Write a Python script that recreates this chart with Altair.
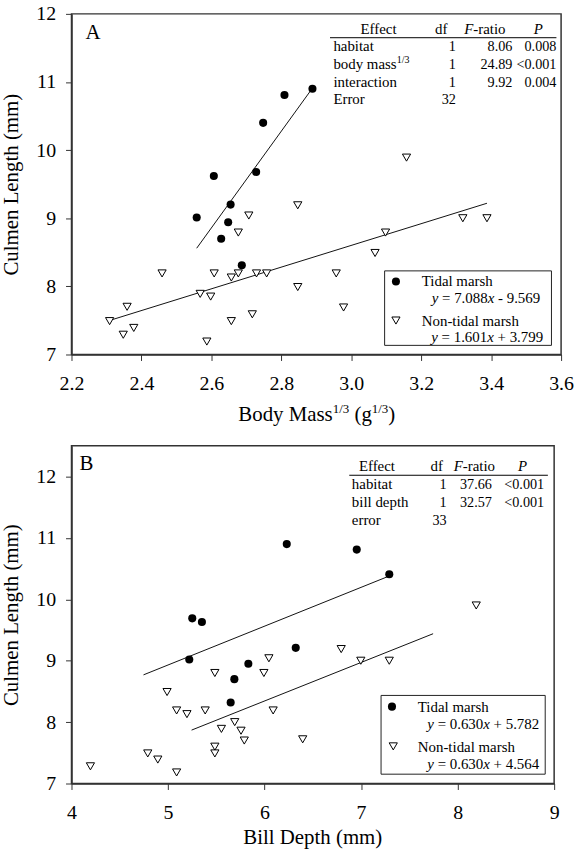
import altair as alt
import pandas as pd

SERIF = "Liberation Serif"

# ---------------- data ----------------
# Panel A: culmen length vs body mass^(1/3)
A_tidal_x = [2.889, 2.809, 2.748, 2.728, 2.607, 2.655, 2.558, 2.648, 2.628, 2.687]
A_tidal_y = [10.90, 10.81, 10.40, 9.68, 9.62, 9.20, 9.01, 8.94, 8.70, 8.31]
A_non_x = [3.158, 2.847, 2.707, 2.677, 3.319, 3.388, 3.098, 3.068, 2.459, 2.608,
           2.657, 2.677, 2.729, 2.758, 2.957, 2.847, 2.568, 2.598, 2.359, 2.978,
           2.309, 2.378, 2.348, 2.657, 2.717, 2.587]
A_non_y = [9.89, 9.19, 9.04, 8.79, 9.00, 9.00, 8.79, 8.49, 8.19, 8.19,
           8.13, 8.19, 8.19, 8.19, 8.19, 7.99, 7.89, 7.85, 7.70, 7.69,
           7.49, 7.39, 7.29, 7.49, 7.59, 7.19]
A_fit_tidal_x = [2.558, 2.889]
A_fit_tidal_y = [8.56, 10.91]
A_fit_non_x = [2.309, 3.388]
A_fit_non_y = [7.50, 9.22]

# Panel B: culmen length vs bill depth
B_tidal_x = [6.230, 6.955, 7.292, 5.251, 5.351, 5.220, 5.832, 5.687, 5.649, 6.323]
B_tidal_y = [10.90, 10.81, 10.41, 9.69, 9.63, 9.02, 8.95, 8.70, 8.32, 9.21]
B_non_x = [8.193, 6.794, 6.045, 6.997, 7.292, 5.485, 5.993, 4.990, 5.089, 5.196,
           5.385, 6.089, 5.691, 5.553, 5.756, 5.790, 6.395, 5.485, 5.485, 4.790,
           4.894, 5.089, 4.196]
B_non_y = [9.90, 9.19, 9.04, 9.00, 9.00, 8.80, 8.80, 8.49, 8.19, 8.13,
           8.19, 8.19, 8.00, 7.89, 7.86, 7.70, 7.72, 7.60, 7.49, 7.49,
           7.39, 7.18, 7.28]
B_fit_tidal_x = [4.746, 7.292]
B_fit_tidal_y = [8.77, 10.38]
B_fit_non_x = [5.244, 7.746]
B_fit_non_y = [7.87, 9.44]

A_x_ticks = [2.2, 2.4, 2.6, 2.8, 3.0, 3.2, 3.4, 3.6]
A_y_ticks = [7, 8, 9, 10, 11, 12]
B_x_ticks = [4, 5, 6, 7, 8, 9]
B_y_ticks = [7, 8, 9, 10, 11, 12]

A_table_rows = [("habitat", "1", "8.06", "0.008"),
                ("body mass", "1", "24.89", "<0.001"),
                ("interaction", "1", "9.92", "0.004"),
                ("Error", "32", "", "")]
B_table_rows = [("habitat", "1", "37.66", "<0.001"),
                ("bill depth", "1", "32.57", "<0.001"),
                ("error", "33", "", "")]
A_eq_tidal = ("7.088", "- 9.569")
A_eq_non = ("1.601", "+ 3.799")
B_eq_tidal = ("0.630", "+ 5.782")
B_eq_non = ("0.630", "+ 4.564")

# ---------------- text metrics helpers (Times / Liberation Serif) ----------------
REG = {' ': .25, '=': .564, '+': .564, '-': .333, '.': .25, '(': .333, ')': .333,
       '/': .278, '<': .564, 'B': .667, 'o': .5, 'd': .5, 'y': .5, 'M': .889,
       'a': .444, 's': .389, 'g': .5, 'r': .333, 't': .278, 'i': .278, 'l': .278,
       'D': .722, 'e': .444, 'p': .5, 'h': .5, 'm': .778, 'F': .556, 'E': .611,
       'f': .333, 'c': .444, 'n': .5, 'b': .5, 'x': .5, 'P': .556}
ITA = {'x': .444, 'y': .444, 'F': .611, 'P': .611}


def tw(s, size, italic=False):
    tab = ITA if italic else REG
    return sum(tab.get(c, REG.get(c, .5)) for c in s) * size


def run(pieces, x, y, anchor="left"):
    total = sum(tw(t, s, it) for t, s, it, dy in pieces)
    if anchor == "right":
        x -= total
    elif anchor == "center":
        x -= total / 2
    out = []
    for t, s, it, dy in pieces:
        lead = len(t) - len(t.lstrip(" "))
        out.append((t.strip(" "), x + tw(" " * lead, s), y + dy, s, "left", it))
        x += tw(t, s, it)
    return out


def text_layers(items):
    df = pd.DataFrame([i for i in items if i[0] != ""],
                      columns=["t", "px", "py", "fs", "al", "it"])
    layers = []
    for (al, it), sub in df.groupby(["al", "it"]):
        layers.append(
            alt.Chart(sub).mark_text(align=al, baseline="alphabetic", font=SERIF,
                                     fontStyle="italic" if it else "normal",
                                     color="black")
            .encode(x=alt.X("px:Q", scale=None, axis=None),
                    y=alt.Y("py:Q", scale=None, axis=None),
                    text="t:N",
                    size=alt.Size("fs:Q", scale=None, legend=None)))
    return layers


def equation(coef, rest, right, y, fs=15):
    return run([("y", fs, True, 0), (" = " + coef, fs, False, 0),
                ("x", fs, True, 0), (" " + rest, fs, False, 0)], right, y, "right")


def panel(tx, ty, nx, ny, ftx, fty, fnx, fny, xdom, ydom, xticks, yticks, xfmt,
          W, H, L):
    xs = alt.Scale(domain=xdom, nice=False, zero=False)
    ys = alt.Scale(domain=ydom, nice=False, zero=False)
    xax = alt.Axis(values=xticks, format=xfmt, title=None, labelFlush=False,
                   labelOverlap=False, labelPadding=13, labelFont=SERIF)
    yax = alt.Axis(values=yticks, title="Culmen Length (mm)", labelPadding=10,
                   titlePadding=14, labelOverlap=False, labelFont=SERIF,
                   titleFont=SERIF)
    dT = pd.DataFrame({"x": tx, "y": ty})
    dN = pd.DataFrame({"x": nx, "y": ny})
    fT = pd.DataFrame({"x": ftx, "y": fty})
    fN = pd.DataFrame({"x": fnx, "y": fny})
    X = alt.X("x:Q", scale=xs, axis=xax)
    Y = alt.Y("y:Q", scale=ys, axis=yax)
    lines = [alt.Chart(d).mark_line(color="#111", strokeWidth=1).encode(x=X, y=Y)
             for d in (fT, fN)]
    tid = alt.Chart(dT).mark_point(shape="circle", filled=True, color="black",
                                   size=66, opacity=1).encode(x=X, y=Y)
    non = alt.Chart(dN).mark_point(shape="triangle-down", filled=True, fill="white",
                                   stroke="black", strokeWidth=1, size=68,
                                   opacity=1).encode(x=X, y=Y)
    layers = lines + [non, tid]
    layers.append(alt.Chart().mark_rule(color="black", strokeWidth=1).encode(
        x=alt.value(L["ul"][0]), x2=alt.value(L["ul"][1]), y=alt.value(L["ul"][2])))
    bx = L["box"]
    layers.append(alt.Chart().mark_rect(fill="white", stroke="#222", strokeWidth=1).encode(
        x=alt.value(bx[0]), x2=alt.value(bx[1]), y=alt.value(bx[2]), y2=alt.value(bx[3])))
    layers.append(alt.Chart().mark_point(shape="circle", filled=True, color="black",
                                         size=66, opacity=1).encode(
        x=alt.value(L["sym1"][0]), y=alt.value(L["sym1"][1])))
    layers.append(alt.Chart().mark_point(shape="triangle-down", filled=True, fill="white",
                                         stroke="black", strokeWidth=1, size=68,
                                         opacity=1).encode(
        x=alt.value(L["sym2"][0]), y=alt.value(L["sym2"][1])))
    layers += text_layers(L["texts"])
    return alt.layer(*layers).properties(width=W, height=H)


# ---------------- layout of annotations (pixels inside each plot) ----------------
FS = 15
NS = 14.3
textsA = [("A", 14, 25.5, 21, "left", False)]
hA = 20.5
textsA += run([("Effect", FS, False, 0)], 309.3, hA, "center")
textsA += run([("df", FS, False, 0)], 372.3, hA, "center")
textsA += run([("F", FS, True, 0), ("-ratio", FS, False, 0)], 416.3, hA, "center")
textsA += run([("P", FS, True, 0)], 470, hA, "center")
for i, (lab, df_, fr, p) in enumerate(A_table_rows):
    yy = 37.2 + 18 * i
    if lab == "body mass":
        textsA += run([(lab, FS, False, 0), ("1/3", 10, False, -6)], 263.7, yy)
    else:
        textsA.append((lab, 263.7, yy, FS, "left", False))
    textsA.append((df_, 387, yy, NS, "right", False))
    textsA.append((fr, 444, yy, NS, "right", False))
    textsA.append((p, 488.3, yy, NS, "right", False))
textsA.append(("Tidal marsh", 352.7, 274.5, FS, "left", False))
textsA += equation(*A_eq_tidal, 472, 291.2)
textsA.append(("Non-tidal marsh", 352.7, 313.8, FS, "left", False))
textsA += equation(*A_eq_non, 475, 330.5)
textsA += run([("Body Mass", 21, False, 0), ("1/3", 13, False, -8), (" (g", 21, False, 0),
               ("1/3", 13, False, -8), (")", 21, False, 0)], 247, 409.5, "center")
LA = {"ul": (260.3, 488.3, 24), "box": (315.3, 483.3, 258.8, 333.8),
      "sym1": (326.7, 269.5), "sym2": (326.7, 308.8), "texts": textsA}

textsB = [("B", 8, 24.3, 21, "left", False)]
hB = 25.6
textsB += run([("Effect", FS, False, 0)], 307.7, hB, "center")
textsB += run([("df", FS, False, 0)], 367.7, hB, "center")
textsB += run([("F", FS, True, 0), ("-ratio", FS, False, 0)], 405.7, hB, "center")
textsB += run([("P", FS, True, 0)], 454.3, hB, "center")
for i, (lab, df_, fr, p) in enumerate(B_table_rows):
    yy = 43.3 + 18 * i
    textsB.append((lab, 282.3, yy, FS, "left", False))
    textsB.append((df_, 377.7, yy, NS, "right", False))
    textsB.append((fr, 423.3, yy, NS, "right", False))
    textsB.append((p, 476, yy, NS, "right", False))
textsB.append(("Tidal marsh", 348.7, 268.3, FS, "left", False))
textsB += equation(*B_eq_tidal, 471, 285)
textsB.append(("Non-tidal marsh", 348.7, 308, FS, "left", False))
textsB += equation(*B_eq_non, 471, 325)
textsB += run([("Bill Depth (mm)", 21, False, 0)], 243, 401.3, "center")
LB = {"ul": (279.7, 479.7, 29.6), "box": (311.7, 477, 251.3, 330.6),
      "sym1": (322.7, 262.6), "sym2": (324, 302.6), "texts": textsB}

chartA = panel(A_tidal_x, A_tidal_y, A_non_x, A_non_y, A_fit_tidal_x, A_fit_tidal_y,
               A_fit_non_x, A_fit_non_y, [2.2, 3.6], [7, 12], A_x_ticks, A_y_ticks,
               ".1f", 493, 343, LA)
chartB = panel(B_tidal_x, B_tidal_y, B_non_x, B_non_y, B_fit_tidal_x, B_fit_tidal_y,
               B_fit_non_x, B_fit_non_y, [4, 9], [7, 12.5], B_x_ticks, B_y_ticks,
               "d", 486, 340, LB)

chart = (alt.vconcat(chartA, chartB, spacing=19)
         .configure(padding={"left": 0, "top": 0, "right": 0, "bottom": 0},
                    background="white", font=SERIF)
         .configure_view(stroke="#333", strokeWidth=1.5)
         .configure_axis(labelFont=SERIF, labelFontSize=20, labelColor="black",
                         titleFont=SERIF, titleFontSize=21, titleFontWeight="normal",
                         titleColor="black", tickColor="#333", domainColor="#333",
                         domainWidth=1.5, tickSize=6, tickWidth=1, grid=False))

chart.save("out.html", embed_options={"renderer": "svg", "actions": False})
